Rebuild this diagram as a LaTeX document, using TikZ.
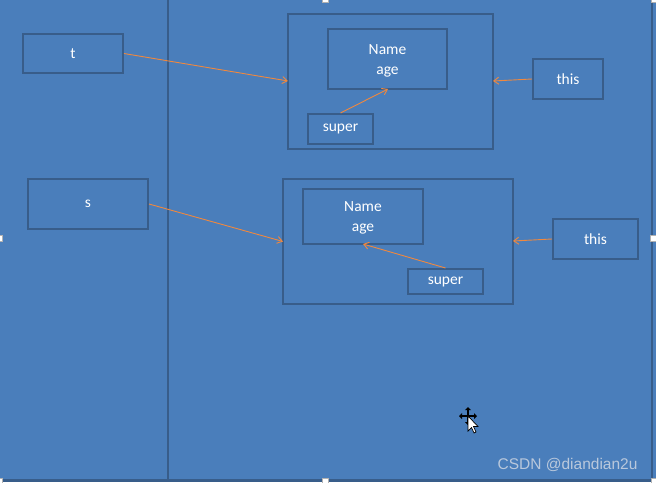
\documentclass[tikz,border=0pt]{standalone}
\usepackage{fontspec}
\setmainfont{Carlito}
\newfontfamily\wmfont{Liberation Sans}
\usetikzlibrary{arrows.meta}
\definecolor{bg}{HTML}{4A7EBB}
\definecolor{edge}{HTML}{385D8A}
\definecolor{arr}{HTML}{F0883E}
\definecolor{wm}{HTML}{B9C8DC}
\tikzset{
  box/.style={draw=edge, line width=2pt, inner sep=0pt, text=white,
    font=\fontsize{15.5}{20}\selectfont, align=center},
  lbl/.style={inner sep=0pt, text=white, font=\fontsize{15.5}{20}\selectfont, align=center},
  conn/.style={draw=arr, line width=0.9pt, -{Straight Barb[length=5pt,width=7pt]}},
  handle/.style={fill=white, draw=gray!60, line width=0.4pt}
}
\begin{document}
\begin{tikzpicture}[x=1pt,y=-1pt]
\fill[bg] (0,0) rectangle (656,482);
\useasboundingbox (0,0) rectangle (656,482);
% frame lines
\draw[edge, line width=2pt] (168,0) -- (168,479);
\draw[edge, line width=2.5pt] (652,0) -- (652,480);
\draw[edge, line width=3pt] (0,480) -- (656,480);
% boxes
\node[box, minimum width=100pt, minimum height=39pt] (t) at (73,53.5) {t};
\node[box, minimum width=120pt, minimum height=50pt] (s) at (88,204) {s};
\node[box, minimum width=205pt, minimum height=135pt] (o1) at (390.5,81.5) {};
\node[box, minimum width=119pt, minimum height=60pt] (n1) at (387.5,59) {};
\node[lbl] (n1t) at (387.5,61) {Name\\age};
\node[box, minimum width=65pt, minimum height=30pt] (sp1) at (340.5,129) {super};
\node[box, minimum width=70pt, minimum height=40pt] (th1) at (568,79) {this};
\node[box, minimum width=230pt, minimum height=125pt] (o2) at (398,241.5) {};
\node[box, minimum width=120pt, minimum height=55pt] (n2) at (363,216.5) {};
\node[lbl] (n2t) at (363,218) {Name\\age};
\node[box, minimum width=75pt, minimum height=25pt] (sp2) at (445.5,281.5) {super};
\node[box, minimum width=85pt, minimum height=40pt] (th2) at (595.5,239) {this};
% connectors
\coordinate (a1) at (288,81);
\coordinate (a2) at (493,81);
\coordinate (a3) at (388,89);
\coordinate (b1) at (283,241.5);
\coordinate (b2) at (513,241);
\coordinate (b3) at (363,244);
\draw[conn] (t.east) -- (a1);
\draw[conn] (th1.west) -- (a2);
\draw[conn] (sp1.north) -- (a3);
\draw[conn] (s.east) -- (b1);
\draw[conn] (th2.west) -- (b2);
\draw[conn] (sp2.north) -- (b3);
% selection handles
\draw[handle] (322,-3) rectangle (328,2);
\draw[handle] (-3,235) rectangle (2,241);
\draw[handle] (650,235) rectangle (656,241);
\draw[handle] (322,478) rectangle (328,484);
\draw[handle] (-3,478) rectangle (2,484);
\draw[handle] (651,478) rectangle (657,484);
\draw[handle] (651,-3) rectangle (657,2);
% cursor (move)
\begin{scope}[shift={(468,416)}]
  \draw[black, line width=1.2pt] (-8,0) -- (8,0) (0,-8) -- (0,8);
  \fill[black] (-9,0) -- (-6,-3) -- (-6,3) -- cycle;
  \fill[black] (9,0) -- (6,-3) -- (6,3) -- cycle;
  \fill[black] (0,-9) -- (-3,-6) -- (3,-6) -- cycle;
  \fill[black] (0,9) -- (-3,6) -- (3,6) -- cycle;
  \draw[fill=white, draw=black, line width=0.7pt] (0,0) -- (0,15) -- (3.5,11.5) -- (6,17) -- (8,16) -- (5.5,10.5) -- (10,10.5) -- cycle;
\end{scope}
% watermark
\node[text=wm, font=\wmfont\fontsize{15.5}{18}\selectfont, anchor=east] (wmk) at (641,465) {CSDN @diandian2u};
\end{tikzpicture}
\end{document}
